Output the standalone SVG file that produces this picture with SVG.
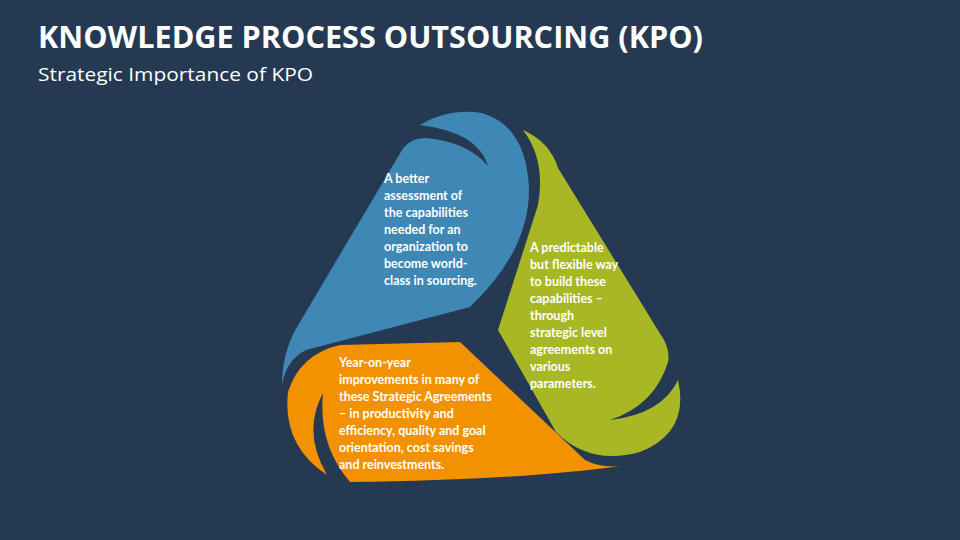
<svg xmlns="http://www.w3.org/2000/svg" width="960" height="540" viewBox="0 0 960 540">
<style>
.t{font-family:Lato,"Open Sans",sans-serif;font-weight:bold;font-size:12.5px;fill:#fff}
</style>
<rect width="960" height="540" fill="#253A52"/>
<text x="38" y="48" font-family="'Open Sans',sans-serif" font-weight="bold" font-size="30" fill="#fff" textLength="665" lengthAdjust="spacingAndGlyphs">KNOWLEDGE PROCESS OUTSOURCING (KPO)</text>
<text x="38" y="81" font-family="'Open Sans',sans-serif" font-size="19" fill="#fff" textLength="275" lengthAdjust="spacingAndGlyphs">Strategic Importance of KPO</text>
<g id="blue">
<path fill="#3F87B5" d="M282,385 Q282,350 300,322 L402,150 Q410,138 426,138 Q468,142 488,166 Q478,132 420,125 Q448,108 482,113 Q526,126 529,188 Q530,250 470,307 L306,350 Q286,360 282,385 Z"/>
<text class="t"><tspan x="384" y="183">A better</tspan><tspan x="384" y="200">assessment of</tspan><tspan x="384" y="217">the capabilities</tspan><tspan x="384" y="234">needed for an</tspan><tspan x="384" y="251">organization to</tspan><tspan x="384" y="268">become world-</tspan><tspan x="384" y="285">class in sourcing.</tspan></text>
</g>
<g id="green">
<path fill="#A8B825" d="M523,130 Q550,142 558,168 L664,340 Q670,352 668,362 Q655,405 610,420 Q662,414 678,380 Q690,432 640,452 Q590,466 556,432 L498,330 L538,205 Q546,160 523,130 Z"/>
<text class="t"><tspan x="530" y="252">A predictable</tspan><tspan x="530" y="269">but flexible way</tspan><tspan x="530" y="286">to build these</tspan><tspan x="530" y="303">capabilities –</tspan><tspan x="530" y="320">through</tspan><tspan x="530" y="337">strategic level</tspan><tspan x="530" y="354">agreements on</tspan><tspan x="530" y="371">various</tspan><tspan x="530" y="388">parameters.</tspan></text>
</g>
<g id="orange">
<path fill="#F39200" d="M460,342 L585,460 Q600,468 620,466 Q520,480 350,482 Q318,445 323,393 Q302,432 327,475 Q282,445 288,392 Q300,354 340,345 Z"/>
<text class="t"><tspan x="339" y="367">Year-on-year</tspan><tspan x="339" y="384">improvements in many of</tspan><tspan x="339" y="401">these Strategic Agreements</tspan><tspan x="339" y="418">– in productivity and</tspan><tspan x="339" y="435">efficiency, quality and goal</tspan><tspan x="339" y="452">orientation, cost savings</tspan><tspan x="339" y="469">and reinvestments.</tspan></text>
</g>
<g id="connectors"/>
</svg>
